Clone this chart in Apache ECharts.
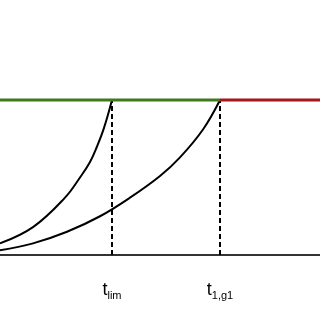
<!DOCTYPE html>
<html>
<head>
<meta charset="utf-8">
<script src="https://cdn.jsdelivr.net/npm/echarts@6/dist/echarts.min.js"></script>
</head>
<body style="margin:0;background:#fff;">

<div id="main" style="width: 320px;height:320px;"></div>

<script type="text/javascript">
    // 时间刻度（自定义位置）
    var tickValues = [112, 220];
    var tickNames = [['t', 'lim'], ['t', '1,g1']];
    // 限值水平线
    var greenLimit = [[0, 1], [220, 1]];
    var redLimit = [[220, 1], [320, 1]];
    // 两条曲线
    var fastCurve = [[0, 0.075], [33, 0.18], [65, 0.37], [80, 0.5], [90, 0.6], [97, 0.7], [104, 0.82], [112, 1]];
    var slowCurve = [[0, 0.03], [33, 0.075], [67, 0.15], [100, 0.25], [130, 0.37], [160, 0.51], [180, 0.63], [203, 0.81], [220, 1]];
    var dropLines = [
        [[112, 0], [112, 1]],
        [[220, 0], [220, 1]]
    ];

    var myChart = echarts.init(document.getElementById('main'));

    var series = [
        {
            type: 'line', data: fastCurve, smooth: 0.4, symbol: 'none',
            lineStyle: { color: '#000', width: 2 }
        },
        {
            type: 'line', data: slowCurve, smooth: 0.4, symbol: 'none',
            lineStyle: { color: '#000', width: 2 }
        }
    ];
    dropLines.forEach(function (d) {
        series.push({
            type: 'line', data: d, symbol: 'none',
            lineStyle: { color: '#000', width: 2, type: [5, 3] }
        });
    });
    series.push({
        type: 'line', data: greenLimit, symbol: 'none',
        lineStyle: { color: '#3c7a1c', width: 3 }
    });
    series.push({
        type: 'line', data: redLimit, symbol: 'none',
        lineStyle: { color: '#a3161a', width: 3 }
    });

    var option = {
        animation: false,
        grid: { left: 0, right: 0, top: 22.5, bottom: 65 },
        xAxis: {
            type: 'value', min: 0, max: 320,
            splitLine: { show: false },
            axisTick: { show: false },
            axisLine: { show: true, onZero: true, lineStyle: { color: '#333', width: 2 } },
            axisLabel: {
                customValues: tickValues,
                margin: 25,
                formatter: function (v) {
                    var i = tickValues.indexOf(v);
                    return '{t|' + tickNames[i][0] + '}{s|' + tickNames[i][1] + '}';
                },
                rich: {
                    t: { fontSize: 18, color: '#000', fontFamily: 'Liberation Sans' },
                    s: { fontSize: 11, color: '#000', fontFamily: 'Liberation Sans', padding: [10, 0, 0, 0] }
                }
            }
        },
        yAxis: {
            type: 'value', min: 0, max: 1.5,
            show: false
        },
        series: series
    };

    myChart.setOption(option);
</script>

</body>
</html>
